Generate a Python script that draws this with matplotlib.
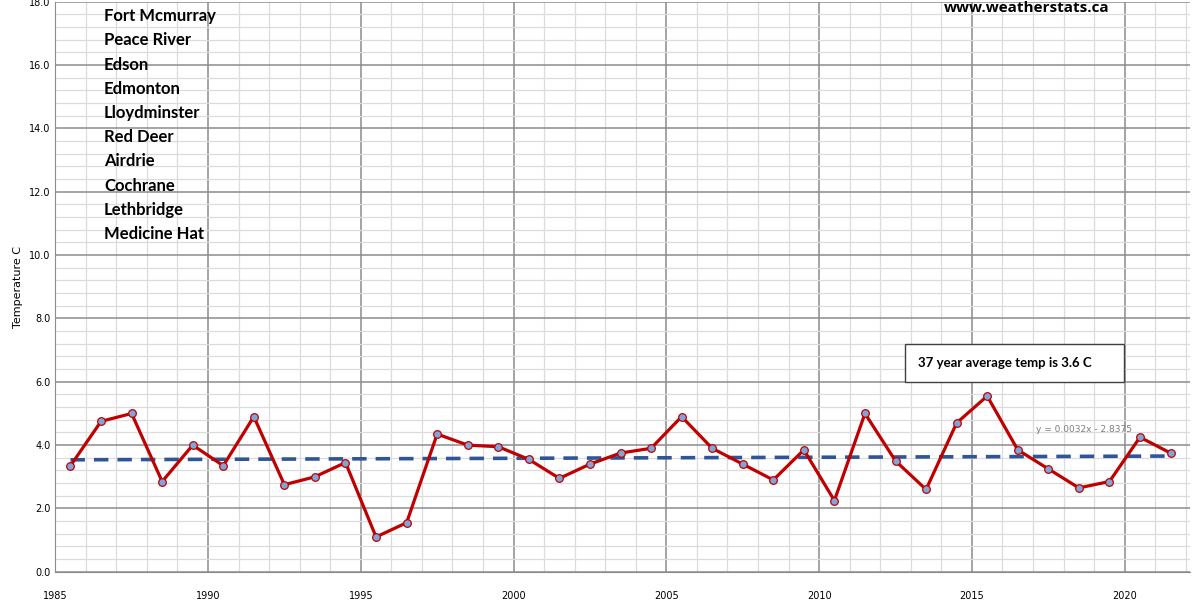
import matplotlib
matplotlib.use("Agg")
import matplotlib.pyplot as plt
import numpy as np
from matplotlib.ticker import MultipleLocator

years = list(range(1985, 2022))
temps = [3.35, 4.75, 5.0, 2.85, 4.0, 3.35, 4.9, 2.75, 3.0, 3.45, 1.1, 1.55, 4.35, 4.0,
         3.95, 3.55, 2.95, 3.4, 3.75, 3.9, 4.9, 3.9, 3.4, 2.9, 3.85, 2.25, 5.0, 3.5,
         2.6, 4.7, 5.55, 3.85, 3.25, 2.65, 2.85, 4.25, 3.75]
stations = ["Fort Mcmurray", "Peace River", "Edson", "Edmonton", "Lloydminster",
            "Red Deer", "Airdrie", "Cochrane", "Lethbridge", "Medicine Hat"]

x = np.array(years) + 0.5
y = np.array(temps)

fig = plt.figure(figsize=(12, 6), dpi=100)
ax = fig.add_axes([0.046, 0.047, 0.946, 0.95])
ax.set_xlim(1985, 2022.15)
ax.set_ylim(0, 18)
ax.xaxis.set_major_locator(MultipleLocator(5))
ax.xaxis.set_minor_locator(MultipleLocator(1))
ax.yaxis.set_major_locator(MultipleLocator(2))
ax.yaxis.set_minor_locator(MultipleLocator(0.4))
ax.grid(which="major", color="#8c8c8c", lw=1.1)
ax.grid(which="minor", color="#dcdcdc", lw=0.9)
ax.set_axisbelow(True)
for s in ["top", "right"]:
    ax.spines[s].set_visible(False)
for s in ["left", "bottom"]:
    ax.spines[s].set_color("#8c8c8c")
ax.tick_params(which="both", length=0, labelsize=7)
ax.set_yticks(np.arange(0, 18.1, 2))
ax.set_yticklabels([f"{v:.1f}" for v in np.arange(0, 18.1, 2)])
ax.set_xticklabels([])
for yr in range(1985, 2021, 5):
    ax.text(yr, -0.6, str(yr), ha="center", va="top", fontsize=7)
ax.set_ylabel("Temperature C", fontsize=8)

m, b = np.polyfit(x, y, 1)
xt = np.array([x[0], x[-1]])
ax.plot(xt, m * xt + b, ls=(0, (4, 2.5)), color="#2f5597", lw=2.6)
ax.plot(x, y, color="#c00000", lw=2.3, marker="o", ms=5.5,
        mfc="#7fa6d9", mec="#c00000", mew=0.9)

ax.text(2017.1, 4.4, "y = 0.0032x - 2.8375", fontsize=6.5, color="#7f7f7f")
ax.text(2016.4, 6.6, "37 year average temp is 3.6 C      ", fontsize=9.5, fontweight="bold",
        family="Lato", ha="center", va="center",
        bbox=dict(boxstyle="square,pad=1.0", fc="white", ec="#404040", lw=1))
ax.text(2016.8, 17.8, "www.weatherstats.ca", fontsize=11, fontweight="bold",
        ha="center", va="center", family="Open Sans")
for i, s in enumerate(stations):
    ax.text(1986.6, 17.55 - i * 0.765, s, fontsize=12, fontweight="bold",
            family="Lato", va="center")

fig.savefig("out.png", dpi=100)
